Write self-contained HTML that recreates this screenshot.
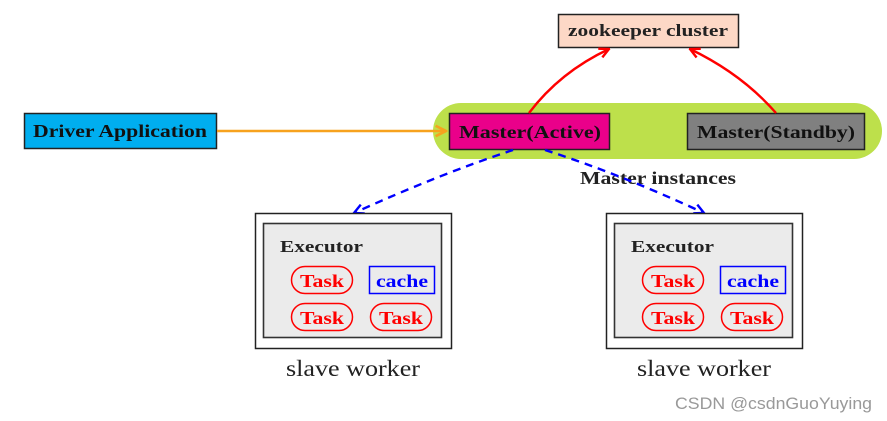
<!DOCTYPE html>
<html><head><meta charset="utf-8"><style>
html,body{margin:0;padding:0;background:#fff;}
svg{display:block;}
text{font-family:"Liberation Serif",serif;font-weight:bold;}
</style></head><body>
<svg width="887" height="421" viewBox="0 0 887 421" xmlns="http://www.w3.org/2000/svg">
<defs>
<marker id="ao" viewBox="0 0 10 10" refX="9" refY="5" markerWidth="5" markerHeight="5" orient="auto"><path d="M1,1 L9,5 L1,9" fill="none" stroke="#f7a21e" stroke-width="2"/></marker>
<marker id="ar" viewBox="0 0 10 10" refX="9" refY="5" markerWidth="5" markerHeight="5" orient="auto"><path d="M1,1 L9,5 L1,9" fill="none" stroke="#f00" stroke-width="2"/></marker>
<marker id="ab" viewBox="0 0 10 10" refX="9" refY="5" markerWidth="5" markerHeight="5" orient="auto"><path d="M1,1 L9,5 L1,9" fill="none" stroke="#00f" stroke-width="2"/></marker>
</defs>
<rect x="558.5" y="14.5" width="180" height="33" fill="#fdd8c6" stroke="#222" stroke-width="1.5"/>
<text x="648" y="36" font-size="17" text-anchor="middle" textLength="160" lengthAdjust="spacingAndGlyphs" fill="#222">zookeeper cluster</text>
<rect x="433" y="103" width="449" height="56" rx="28" fill="#bde04b"/>
<rect x="449.5" y="113.5" width="160" height="36" fill="#ea008a" stroke="#222" stroke-width="1.5"/>
<text x="530" y="138" font-size="18" text-anchor="middle" textLength="142" lengthAdjust="spacingAndGlyphs" fill="#111">Master(Active)</text>
<rect x="687.5" y="113.5" width="177" height="36" fill="#808080" stroke="#222" stroke-width="1.5"/>
<text x="776" y="138" font-size="18" text-anchor="middle" textLength="158" lengthAdjust="spacingAndGlyphs" fill="#111">Master(Standby)</text>
<text x="658" y="184" font-size="18" text-anchor="middle" textLength="156" lengthAdjust="spacingAndGlyphs" fill="#222">Master instances</text>
<rect x="24.5" y="113.5" width="192" height="35" fill="#00aeef" stroke="#222" stroke-width="1.5"/>
<text x="120" y="137" font-size="18" text-anchor="middle" textLength="174" lengthAdjust="spacingAndGlyphs" fill="#111">Driver Application</text>
<line x1="217" y1="131" x2="446" y2="131" stroke="#f7a21e" stroke-width="2.6" marker-end="url(#ao)"/>
<path d="M529,113 Q560,72 609,49" fill="none" stroke="#f00" stroke-width="2.4" marker-end="url(#ar)"/>
<path d="M776,113 Q742,74 690,49" fill="none" stroke="#f00" stroke-width="2.4" marker-end="url(#ar)"/>
<path d="M513,150 Q440,174 354,213" fill="none" stroke="#00f" stroke-width="2.4" stroke-dasharray="8,6" marker-end="url(#ab)"/>
<path d="M545,150 Q620,174 704,213" fill="none" stroke="#00f" stroke-width="2.4" stroke-dasharray="8,6" marker-end="url(#ab)"/>
<g>
<rect x="255.5" y="213.5" width="196" height="135" fill="#fff" stroke="#222" stroke-width="1.5"/>
<rect x="263.5" y="223.5" width="178" height="114" fill="#ebebeb" stroke="#333" stroke-width="1.6"/>
<text x="280" y="252" font-size="17" textLength="83" lengthAdjust="spacingAndGlyphs" fill="#222">Executor</text>
<rect x="291.5" y="266.5" width="61" height="27" rx="13.5" fill="none" stroke="#f00" stroke-width="1.5"/>
<text x="322" y="287" font-size="18" text-anchor="middle" textLength="44" lengthAdjust="spacingAndGlyphs" fill="#f00">Task</text>
<rect x="369.5" y="266.5" width="65" height="27" fill="none" stroke="#00f" stroke-width="1.5"/>
<text x="402" y="287" font-size="18" text-anchor="middle" textLength="52" lengthAdjust="spacingAndGlyphs" fill="#00f">cache</text>
<rect x="291.5" y="303.5" width="61" height="27" rx="13.5" fill="none" stroke="#f00" stroke-width="1.5"/>
<text x="322" y="324" font-size="18" text-anchor="middle" textLength="44" lengthAdjust="spacingAndGlyphs" fill="#f00">Task</text>
<rect x="370.5" y="303.5" width="61" height="27" rx="13.5" fill="none" stroke="#f00" stroke-width="1.5"/>
<text x="401" y="324" font-size="18" text-anchor="middle" textLength="44" lengthAdjust="spacingAndGlyphs" fill="#f00">Task</text>
<text x="353" y="376" font-size="23" font-weight="normal" style="font-weight:normal" text-anchor="middle" textLength="134" lengthAdjust="spacingAndGlyphs" fill="#222">slave worker</text>
</g>
<g transform="translate(351,0)">
<rect x="255.5" y="213.5" width="196" height="135" fill="#fff" stroke="#222" stroke-width="1.5"/>
<rect x="263.5" y="223.5" width="178" height="114" fill="#ebebeb" stroke="#333" stroke-width="1.6"/>
<text x="280" y="252" font-size="17" textLength="83" lengthAdjust="spacingAndGlyphs" fill="#222">Executor</text>
<rect x="291.5" y="266.5" width="61" height="27" rx="13.5" fill="none" stroke="#f00" stroke-width="1.5"/>
<text x="322" y="287" font-size="18" text-anchor="middle" textLength="44" lengthAdjust="spacingAndGlyphs" fill="#f00">Task</text>
<rect x="369.5" y="266.5" width="65" height="27" fill="none" stroke="#00f" stroke-width="1.5"/>
<text x="402" y="287" font-size="18" text-anchor="middle" textLength="52" lengthAdjust="spacingAndGlyphs" fill="#00f">cache</text>
<rect x="291.5" y="303.5" width="61" height="27" rx="13.5" fill="none" stroke="#f00" stroke-width="1.5"/>
<text x="322" y="324" font-size="18" text-anchor="middle" textLength="44" lengthAdjust="spacingAndGlyphs" fill="#f00">Task</text>
<rect x="370.5" y="303.5" width="61" height="27" rx="13.5" fill="none" stroke="#f00" stroke-width="1.5"/>
<text x="401" y="324" font-size="18" text-anchor="middle" textLength="44" lengthAdjust="spacingAndGlyphs" fill="#f00">Task</text>
<text x="353" y="376" font-size="23" style="font-weight:normal" text-anchor="middle" textLength="134" lengthAdjust="spacingAndGlyphs" fill="#222">slave worker</text>
</g>
<text x="675" y="409" font-size="17" textLength="197" lengthAdjust="spacingAndGlyphs" fill="#999" style="font-family:'Liberation Sans',sans-serif;font-weight:normal">CSDN @csdnGuoYuying</text>
</svg>
</body></html>
